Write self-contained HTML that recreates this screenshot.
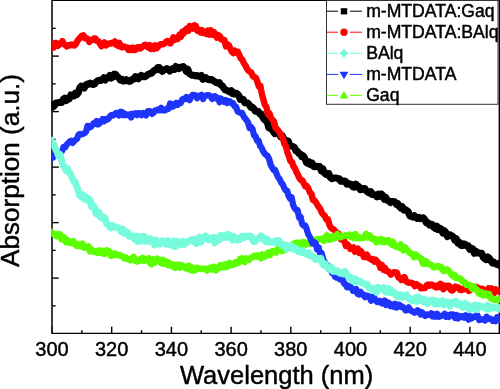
<!DOCTYPE html>
<html><head><meta charset="utf-8"><title>Absorption spectra</title><style>
html,body{margin:0;padding:0;background:#fff;}
svg{display:block;}
text{font-family:"Liberation Sans",Arial,sans-serif;fill:#000;stroke:#000;stroke-width:0.45px;}
</style></head><body>
<svg width="500" height="389" viewBox="0 0 500 389">
<defs><clipPath id="pc"><rect x="51.2" y="0" width="449" height="333"/></clipPath></defs>
<g stroke="#000" stroke-width="1.4" fill="none">
<line x1="52.00" y1="333.6" x2="52.00" y2="326.80"/>
<line x1="81.85" y1="333.6" x2="81.85" y2="330.20"/>
<line x1="111.70" y1="333.6" x2="111.70" y2="326.80"/>
<line x1="141.55" y1="333.6" x2="141.55" y2="330.20"/>
<line x1="171.40" y1="333.6" x2="171.40" y2="326.80"/>
<line x1="201.25" y1="333.6" x2="201.25" y2="330.20"/>
<line x1="231.10" y1="333.6" x2="231.10" y2="326.80"/>
<line x1="260.95" y1="333.6" x2="260.95" y2="330.20"/>
<line x1="290.80" y1="333.6" x2="290.80" y2="326.80"/>
<line x1="320.65" y1="333.6" x2="320.65" y2="330.20"/>
<line x1="350.50" y1="333.6" x2="350.50" y2="326.80"/>
<line x1="380.35" y1="333.6" x2="380.35" y2="330.20"/>
<line x1="410.20" y1="333.6" x2="410.20" y2="326.80"/>
<line x1="440.05" y1="333.6" x2="440.05" y2="330.20"/>
<line x1="469.90" y1="333.6" x2="469.90" y2="326.80"/>
<line x1="52" y1="305.85" x2="55.60" y2="305.85"/>
<line x1="52" y1="278.10" x2="58.80" y2="278.10"/>
<line x1="52" y1="250.35" x2="55.60" y2="250.35"/>
<line x1="52" y1="222.60" x2="58.80" y2="222.60"/>
<line x1="52" y1="194.85" x2="55.60" y2="194.85"/>
<line x1="52" y1="167.10" x2="58.80" y2="167.10"/>
<line x1="52" y1="139.35" x2="55.60" y2="139.35"/>
<line x1="52" y1="111.60" x2="58.80" y2="111.60"/>
<line x1="52" y1="83.85" x2="55.60" y2="83.85"/>
<line x1="52" y1="56.10" x2="58.80" y2="56.10"/>
<line x1="52" y1="28.35" x2="55.60" y2="28.35"/>
</g>
<path d="M52,0.4 H499.3 V333.4 H52" fill="none" stroke="#000" stroke-width="1.4"/>
<line x1="52" y1="0" x2="52" y2="334.1" stroke="#1a1a1a" stroke-width="1.7"/>
<rect x="326.5" y="0.5" width="171.5" height="103.8" fill="none" stroke="#333" stroke-width="1"/>
<g font-size="17.6px">
<path d="M326.5 11.2H338M350 11.2H362" stroke="#000000" stroke-width="1"/>
<rect x="340.8" y="8.2" width="6.4" height="6.2" fill="#000000"/>
<text x="366.2" y="16.8">m-MTDATA:Gaq</text>
<path d="M326.5 32.2H338M350 32.2H362" stroke="#ff0000" stroke-width="1"/>
<circle cx="344" cy="32.2" r="3.7" fill="#ff0000"/>
<text x="366.2" y="37.9">m-MTDATA:BAlq</text>
<path d="M326.5 53.3H338M350 53.3H362" stroke="#76fcdc" stroke-width="1"/>
<polygon points="344,48.9 348.4,53.3 344,57.7 339.6,53.3" fill="#76fcdc"/>
<text x="366.2" y="58.9">BAlq</text>
<path d="M326.5 74.4H338M350 74.4H362" stroke="#1f34fb" stroke-width="1"/>
<polygon points="339.6,71.8 348.4,71.8 344,79.2" fill="#1f34fb"/>
<text x="366.2" y="80.0">m-MTDATA</text>
<path d="M326.5 95.4H338M350 95.4H362" stroke="#5cff00" stroke-width="1"/>
<polygon points="339.6,98.4 348.4,98.4 344,91.0" fill="#5cff00"/>
<text x="366.2" y="101.0">Gaq</text>
</g>
<g clip-path="url(#pc)" fill="none" stroke-linejoin="round" stroke-linecap="round">
<polyline points="51.3,105.0 52.8,107.0 54.3,105.8 55.8,102.9 57.3,103.1 58.8,102.4 60.3,102.6 61.8,102.6 63.3,99.2 64.8,98.2 66.3,100.6 67.8,98.3 69.3,98.8 70.8,94.9 72.3,95.8 73.8,96.0 75.3,93.2 76.8,94.6 78.3,92.8 79.8,87.7 81.3,86.1 82.8,87.0 84.3,88.0 85.8,85.1 87.3,83.9 88.8,84.2 90.3,83.0 91.8,84.1 93.3,84.5 94.8,83.8 96.3,81.7 97.8,80.8 99.3,80.2 100.8,80.6 102.3,79.4 103.8,77.8 105.3,80.0 106.8,78.0 108.3,77.8 109.8,75.4 111.3,78.0 112.8,77.2 114.3,74.0 115.8,74.6 117.3,76.6 118.8,77.9 120.3,80.1 121.8,79.3 123.3,81.2 124.8,80.8 126.3,79.6 127.8,80.6 129.3,81.4 130.8,80.9 132.3,79.2 133.8,79.1 135.3,76.6 136.8,77.0 138.3,78.8 139.8,76.8 141.3,75.4 142.8,76.5 144.3,76.8 145.8,76.4 147.3,74.9 148.8,74.1 150.3,73.3 151.8,73.2 153.3,71.3 154.8,70.1 156.3,69.9 157.8,67.4 159.3,67.5 160.8,70.1 162.3,71.4 163.8,70.0 165.3,69.3 166.8,68.5 168.3,69.4 169.8,71.0 171.3,69.8 172.8,68.5 174.3,69.4 175.8,66.5 177.3,67.3 178.8,68.6 180.3,67.2 181.8,67.0 183.3,66.6 184.8,68.3 186.3,71.4 187.8,69.1 189.3,73.6 190.8,74.5 192.3,75.3 193.8,75.2 195.3,76.0 196.8,75.4 198.3,76.2 199.8,76.3 201.3,75.5 202.8,79.3 204.3,78.6 205.8,77.6 207.3,79.3 208.8,79.8 210.3,79.5 211.8,79.6 213.3,80.6 214.8,81.6 216.3,82.6 217.8,83.0 219.3,82.6 220.8,85.0 222.3,85.8 223.8,88.1 225.3,89.9 226.8,90.3 228.3,91.0 229.8,92.0 231.3,90.6 232.8,93.9 234.3,94.1 235.8,93.0 237.3,94.0 238.8,95.3 240.3,99.5 241.8,98.8 243.3,99.5 244.8,102.8 246.3,103.0 247.8,103.1 249.3,104.7 250.8,107.4 252.3,107.1 253.8,108.5 255.3,111.2 256.8,111.1 258.3,111.5 259.8,113.9 261.3,114.0 262.8,117.3 264.3,119.5 265.8,120.6 267.3,122.4 268.8,127.8 270.3,128.4 271.8,128.7 273.3,131.6 274.8,133.6 276.3,131.3 277.8,132.2 279.3,133.7 280.8,136.9 282.3,135.8 283.8,139.0 285.3,140.0 286.8,140.8 288.3,140.9 289.8,145.3 291.3,146.0 292.8,146.6 294.3,147.2 295.8,150.7 297.3,151.3 298.8,153.5 300.3,154.0 301.8,156.7 303.3,155.9 304.8,158.3 306.3,162.4 307.8,163.5 309.3,162.0 310.8,164.7 312.3,163.3 313.8,166.7 315.3,166.8 316.8,166.3 318.3,166.5 319.8,166.5 321.3,171.0 322.8,168.7 324.3,172.8 325.8,174.4 327.3,173.9 328.8,173.5 330.3,177.4 331.8,178.8 333.3,178.2 334.8,177.9 336.3,177.9 337.8,178.5 339.3,178.7 340.8,181.4 342.3,181.2 343.8,180.9 345.3,181.2 346.8,184.0 348.3,183.2 349.8,184.5 351.3,184.2 352.8,186.8 354.3,187.2 355.8,184.1 357.3,185.5 358.8,186.6 360.3,189.8 361.8,189.6 363.3,188.4 364.8,188.4 366.3,190.8 367.8,192.0 369.3,193.0 370.8,191.6 372.3,194.6 373.8,194.7 375.3,194.7 376.8,196.9 378.3,194.2 379.8,196.4 381.3,194.0 382.8,195.3 384.3,199.3 385.8,197.5 387.3,200.6 388.8,200.8 390.3,202.6 391.8,201.5 393.3,201.6 394.8,201.7 396.3,204.3 397.8,203.6 399.3,206.6 400.8,208.1 402.3,206.8 403.8,210.1 405.3,209.6 406.8,210.5 408.3,211.7 409.8,215.9 411.3,216.5 412.8,217.1 414.3,215.7 415.8,217.3 417.3,218.5 418.8,217.4 420.3,218.7 421.8,217.9 423.3,217.8 424.8,219.5 426.3,222.9 427.8,222.6 429.3,225.0 430.8,224.1 432.3,224.4 433.8,227.4 435.3,228.5 436.8,226.2 438.3,229.6 439.8,228.1 441.3,229.1 442.8,233.1 444.3,230.8 445.8,232.6 447.3,236.6 448.8,235.1 450.3,234.7 451.8,235.8 453.3,237.0 454.8,240.2 456.3,238.8 457.8,243.2 459.3,242.3 460.8,245.3 462.3,245.7 463.8,243.8 465.3,244.3 466.8,246.2 468.3,245.9 469.8,249.3 471.3,248.0 472.8,248.8 474.3,253.3 475.8,251.2 477.3,253.0 478.8,253.0 480.3,253.4 481.8,253.3 483.3,257.6 484.8,258.8 486.3,259.6 487.8,257.0 489.3,258.2 490.8,260.6 492.3,263.0 493.8,262.1 495.3,263.7 496.8,264.5 498.3,263.6 499.8,265.5" stroke="#000000" stroke-width="7.0"/>
<polyline points="51.9,48.0 53.4,47.7 54.9,43.0 56.4,42.9 57.9,45.9 59.4,44.6 60.9,43.4 62.4,41.1 63.9,43.9 65.4,45.2 66.9,46.4 68.4,45.1 69.9,45.5 71.4,44.4 72.9,45.2 74.4,45.5 75.9,44.0 77.4,40.8 78.9,39.1 80.4,37.4 81.9,35.8 83.4,35.3 84.9,38.2 86.4,38.1 87.9,39.1 89.4,41.9 90.9,39.9 92.4,40.0 93.9,38.4 95.4,38.4 96.9,41.0 98.4,41.1 99.9,43.4 101.4,46.1 102.9,44.8 104.4,42.4 105.9,45.3 107.4,44.3 108.9,43.4 110.4,43.7 111.9,42.8 113.4,43.3 114.9,41.5 116.4,45.0 117.9,45.8 119.4,42.9 120.9,46.9 122.4,47.4 123.9,46.5 125.4,47.2 126.9,47.4 128.4,49.9 129.9,48.2 131.4,50.2 132.9,47.7 134.4,50.0 135.9,49.7 137.4,47.1 138.9,47.2 140.4,48.5 141.9,47.1 143.4,45.9 144.9,44.7 146.4,45.3 147.9,47.3 149.4,45.0 150.9,49.0 152.4,46.2 153.9,49.0 155.4,45.4 156.9,48.1 158.4,46.2 159.9,44.6 161.4,44.1 162.9,44.4 164.4,43.7 165.9,42.0 167.4,41.0 168.9,41.9 170.4,43.4 171.9,41.2 173.4,37.2 174.9,39.7 176.4,38.5 177.9,38.9 179.4,34.8 180.9,36.9 182.4,31.9 183.9,33.3 185.4,29.8 186.9,28.5 188.4,30.8 189.9,26.0 191.4,27.4 192.9,28.6 194.4,25.2 195.9,26.1 197.4,30.8 198.9,29.8 200.4,32.4 201.9,30.1 203.4,32.9 204.9,31.9 206.4,34.0 207.9,30.7 209.4,34.6 210.9,30.3 212.4,34.8 213.9,32.1 215.4,34.2 216.9,37.8 218.4,35.2 219.9,36.2 221.4,39.6 222.9,39.8 224.4,39.9 225.9,46.4 227.4,44.1 228.9,45.4 230.4,48.8 231.9,51.9 233.4,53.2 234.9,50.7 236.4,52.5 237.9,51.9 239.4,55.4 240.9,58.5 242.4,59.9 243.9,63.3 245.4,65.3 246.9,68.6 248.4,70.6 249.9,71.9 251.4,72.5 252.9,76.5 254.4,76.8 255.9,77.9 257.4,81.8 258.9,86.6 260.4,85.8 261.9,94.0 263.4,99.6 264.9,104.8 266.4,106.8 267.9,114.0 269.4,113.3 270.9,117.6 272.4,119.8 273.9,121.1 275.4,127.7 276.9,129.0 278.4,130.8 279.9,132.9 281.4,136.0 282.9,138.3 284.4,143.8 285.9,146.4 287.4,152.3 288.9,156.1 290.4,161.2 291.9,161.7 293.4,166.4 294.9,168.2 296.4,172.2 297.9,174.7 299.4,178.1 300.9,180.1 302.4,180.3 303.9,183.6 305.4,186.5 306.9,186.1 308.4,188.5 309.9,192.5 311.4,193.9 312.9,199.9 314.4,200.6 315.9,202.3 317.4,204.8 318.9,207.2 320.4,209.2 321.9,212.9 323.4,214.7 324.9,215.9 326.4,219.5 327.9,219.3 329.4,225.0 330.9,227.7 332.4,228.9 333.9,229.5 335.4,231.8 336.9,234.1 338.4,233.5 339.9,237.3 341.4,239.7 342.9,239.9 344.4,241.3 345.9,245.9 347.4,244.5 348.9,246.1 350.4,248.9 351.9,248.1 353.4,247.4 354.9,251.7 356.4,249.5 357.9,248.6 359.4,253.0 360.9,251.2 362.4,253.3 363.9,257.0 365.4,257.1 366.9,254.7 368.4,257.8 369.9,258.5 371.4,259.7 372.9,259.0 374.4,261.7 375.9,259.9 377.4,261.8 378.9,263.6 380.4,267.8 381.9,264.9 383.4,269.7 384.9,268.0 386.4,271.0 387.9,271.1 389.4,272.6 390.9,274.7 392.4,273.2 393.9,272.1 395.4,272.4 396.9,272.7 398.4,277.6 399.9,277.5 401.4,280.1 402.9,279.7 404.4,277.0 405.9,280.9 407.4,282.3 408.9,282.9 410.4,282.6 411.9,282.8 413.4,284.0 414.9,286.2 416.4,284.0 417.9,285.7 419.4,285.9 420.9,288.3 422.4,287.6 423.9,288.2 425.4,287.8 426.9,285.0 428.4,284.5 429.9,285.7 431.4,284.4 432.9,285.1 434.4,286.3 435.9,287.4 437.4,285.7 438.9,286.9 440.4,283.8 441.9,285.6 443.4,289.3 444.9,285.6 446.4,287.1 447.9,285.6 449.4,285.8 450.9,290.0 452.4,290.6 453.9,289.1 455.4,286.6 456.9,287.6 458.4,287.4 459.9,289.8 461.4,290.0 462.9,289.0 464.4,289.3 465.9,287.0 467.4,289.0 468.9,290.9 470.4,289.8 471.9,286.3 473.4,288.3 474.9,289.1 476.4,286.9 477.9,290.4 479.4,288.5 480.9,290.0 482.4,288.8 483.9,292.1 485.4,291.3 486.9,290.5 488.4,288.5 489.9,290.2 491.4,288.3 492.9,291.2 494.4,292.8 495.9,289.4 497.4,291.2 498.9,291.1 500.4,290.8" stroke="#ff0000" stroke-width="6.4"/>
<polyline points="51.0,231.7 52.5,233.9 54.0,233.7 55.5,235.5 57.0,236.2 58.5,234.1 60.0,234.5 61.5,239.3 63.0,237.1 64.5,237.7 66.0,242.2 67.5,240.3 69.0,242.9 70.5,241.8 72.0,243.1 73.5,241.2 75.0,244.0 76.5,245.7 78.0,244.5 79.5,246.1 81.0,246.2 82.5,243.7 84.0,247.8 85.5,247.7 87.0,247.0 88.5,246.4 90.0,251.3 91.5,249.5 93.0,251.0 94.5,252.0 96.0,251.4 97.5,252.7 99.0,250.3 100.5,252.5 102.0,250.9 103.5,253.7 105.0,253.8 106.5,250.3 108.0,250.8 109.5,251.7 111.0,255.8 112.5,253.6 114.0,255.0 115.5,253.7 117.0,255.1 118.5,254.9 120.0,255.0 121.5,256.4 123.0,256.6 124.5,258.4 126.0,257.5 127.5,259.1 129.0,259.2 130.5,260.3 132.0,259.1 133.5,256.8 135.0,260.6 136.5,261.4 138.0,261.3 139.5,259.7 141.0,260.3 142.5,257.8 144.0,260.8 145.5,259.7 147.0,258.9 148.5,258.4 150.0,262.9 151.5,264.1 153.0,259.3 154.5,262.6 156.0,260.3 157.5,258.7 159.0,259.7 160.5,262.5 162.0,263.4 163.5,259.9 165.0,263.7 166.5,261.6 168.0,265.0 169.5,263.1 171.0,265.8 172.5,266.4 174.0,264.7 175.5,267.9 177.0,265.1 178.5,264.6 180.0,267.5 181.5,265.1 183.0,266.3 184.5,267.4 186.0,268.5 187.5,266.3 189.0,265.8 190.5,270.0 192.0,267.3 193.5,270.6 195.0,270.4 196.5,267.8 198.0,268.2 199.5,268.5 201.0,269.1 202.5,268.9 204.0,268.7 205.5,269.0 207.0,270.6 208.5,268.4 210.0,267.9 211.5,269.3 213.0,266.8 214.5,267.0 216.0,270.3 217.5,268.0 219.0,268.0 220.5,265.1 222.0,266.9 223.5,267.5 225.0,264.3 226.5,266.8 228.0,266.3 229.5,262.9 231.0,265.2 232.5,263.9 234.0,264.4 235.5,262.2 237.0,263.5 238.5,263.0 240.0,258.9 241.5,258.4 243.0,260.9 244.5,262.0 246.0,258.3 247.5,259.2 249.0,259.8 250.5,258.0 252.0,257.4 253.5,256.2 255.0,255.6 256.5,256.6 258.0,255.4 259.5,256.0 261.0,258.2 262.5,254.4 264.0,256.4 265.5,256.5 267.0,253.7 268.5,252.6 270.0,255.0 271.5,251.6 273.0,250.9 274.5,251.6 276.0,252.5 277.5,249.2 279.0,249.9 280.5,249.3 282.0,251.1 283.5,248.4 285.0,249.8 286.5,245.7 288.0,245.9 289.5,246.8 291.0,247.3 292.5,244.9 294.0,243.6 295.5,242.8 297.0,244.6 298.5,242.7 300.0,245.6 301.5,245.5 303.0,242.0 304.5,242.2 306.0,244.5 307.5,243.4 309.0,243.9 310.5,241.2 312.0,239.8 313.5,240.2 315.0,242.3 316.5,239.3 318.0,239.3 319.5,239.3 321.0,239.0 322.5,238.5 324.0,240.7 325.5,236.5 327.0,235.4 328.5,239.7 330.0,239.0 331.5,239.2 333.0,236.0 334.5,238.2 336.0,237.7 337.5,234.2 339.0,236.8 340.5,237.3 342.0,236.4 343.5,236.0 345.0,235.2 346.5,235.8 348.0,235.5 349.5,234.7 351.0,237.2 352.5,235.5 354.0,238.0 355.5,234.0 357.0,238.2 358.5,237.1 360.0,238.2 361.5,238.0 363.0,238.1 364.5,236.5 366.0,233.8 367.5,237.5 369.0,235.2 370.5,236.4 372.0,238.9 373.5,238.9 375.0,239.0 376.5,242.4 378.0,241.0 379.5,239.6 381.0,239.0 382.5,242.0 384.0,240.1 385.5,242.2 387.0,240.6 388.5,240.3 390.0,242.6 391.5,244.5 393.0,241.8 394.5,245.4 396.0,246.6 397.5,246.7 399.0,247.6 400.5,244.3 402.0,248.1 403.5,250.3 405.0,247.4 406.5,249.7 408.0,250.7 409.5,252.9 411.0,253.4 412.5,254.6 414.0,257.2 415.5,254.3 417.0,255.7 418.5,257.1 420.0,258.0 421.5,258.5 423.0,263.9 424.5,264.1 426.0,261.1 427.5,263.9 429.0,263.7 430.5,264.5 432.0,265.4 433.5,267.3 435.0,267.3 436.5,266.6 438.0,266.1 439.5,267.3 441.0,266.9 442.5,269.6 444.0,271.1 445.5,270.1 447.0,269.4 448.5,270.7 450.0,272.5 451.5,274.5 453.0,276.2 454.5,275.0 456.0,278.0 457.5,278.1 459.0,278.1 460.5,278.8 462.0,280.5 463.5,282.7 465.0,282.4 466.5,284.9 468.0,284.7 469.5,284.7 471.0,287.2 472.5,288.9 474.0,286.5 475.5,289.1 477.0,289.9 478.5,293.0 480.0,294.1 481.5,292.1 483.0,295.4 484.5,295.5 486.0,293.5 487.5,295.1 489.0,294.1 490.5,298.2 492.0,298.1 493.5,299.7 495.0,299.7 496.5,299.5 498.0,300.2 499.5,299.8 501.0,297.9" stroke="#5cff00" stroke-width="6.5"/>
<polyline points="50.1,159.7 51.6,157.6 53.1,157.5 54.6,154.8 56.1,152.8 57.6,152.9 59.1,153.8 60.6,152.1 62.1,150.8 63.6,147.0 65.1,147.3 66.6,144.9 68.1,143.2 69.6,141.6 71.1,140.8 72.6,142.9 74.1,141.1 75.6,139.8 77.1,138.7 78.6,134.6 80.1,134.0 81.6,134.4 83.1,133.8 84.6,133.2 86.1,131.4 87.6,125.9 89.1,127.6 90.6,127.1 92.1,125.4 93.6,123.1 95.1,123.7 96.6,121.1 98.1,124.4 99.6,123.4 101.1,121.1 102.6,119.1 104.1,121.3 105.6,118.9 107.1,119.6 108.6,118.6 110.1,116.2 111.6,114.9 113.1,115.5 114.6,114.4 116.1,112.9 117.6,113.3 119.1,115.5 120.6,111.8 122.1,112.1 123.6,115.1 125.1,113.7 126.6,115.1 128.1,114.9 129.6,114.3 131.1,117.5 132.6,113.7 134.1,114.5 135.6,113.3 137.1,115.1 138.6,113.2 140.1,113.4 141.6,115.1 143.1,113.0 144.6,114.0 146.1,115.4 147.6,111.4 149.1,111.0 150.6,111.5 152.1,113.9 153.6,112.7 155.1,110.5 156.6,110.5 158.1,109.4 159.6,110.3 161.1,107.8 162.6,110.3 164.1,110.5 165.6,110.1 167.1,108.4 168.6,108.7 170.1,103.5 171.6,104.0 173.1,106.6 174.6,105.1 176.1,102.9 177.6,104.9 179.1,102.8 180.6,103.1 182.1,99.8 183.6,98.6 185.1,99.0 186.6,97.0 188.1,97.8 189.6,100.2 191.1,96.8 192.6,95.0 194.1,95.0 195.6,95.4 197.1,98.2 198.6,96.0 200.1,95.7 201.6,94.8 203.1,99.0 204.6,96.3 206.1,95.5 207.6,95.1 209.1,95.4 210.6,96.2 212.1,98.9 213.6,96.5 215.1,96.2 216.6,98.6 218.1,98.0 219.6,102.2 221.1,98.6 222.6,100.7 224.1,101.9 225.6,100.1 227.1,102.9 228.6,101.1 230.1,101.4 231.6,103.6 233.1,103.2 234.6,106.5 236.1,106.9 237.6,111.3 239.1,112.3 240.6,112.9 242.1,113.0 243.6,116.3 245.1,118.4 246.6,120.3 248.1,122.6 249.6,128.1 251.1,127.1 252.6,129.2 254.1,135.6 255.6,136.2 257.1,140.8 258.6,140.7 260.1,145.9 261.6,147.6 263.1,151.2 264.6,153.6 266.1,155.1 267.6,155.8 269.1,158.9 270.6,164.7 272.1,167.3 273.6,170.0 275.1,169.8 276.6,173.9 278.1,177.2 279.6,179.0 281.1,182.5 282.6,184.1 284.1,187.6 285.6,190.3 287.1,190.7 288.6,196.1 290.1,198.6 291.6,197.3 293.1,204.9 294.6,208.1 296.1,209.9 297.6,210.2 299.1,217.5 300.6,216.9 302.1,223.9 303.6,225.4 305.1,225.3 306.6,228.8 308.1,234.0 309.6,236.5 311.1,240.0 312.6,243.6 314.1,242.1 315.6,243.1 317.1,249.6 318.6,247.3 320.1,253.9 321.6,253.0 323.1,259.0 324.6,261.6 326.1,264.6 327.6,265.4 329.1,269.3 330.6,268.4 332.1,273.0 333.6,272.8 335.1,276.8 336.6,277.6 338.1,277.5 339.6,279.2 341.1,278.1 342.6,279.5 344.1,283.6 345.6,284.4 347.1,287.4 348.6,287.2 350.1,286.0 351.6,288.1 353.1,290.9 354.6,290.6 356.1,289.1 357.6,293.9 359.1,294.6 360.6,291.7 362.1,294.6 363.6,294.5 365.1,297.1 366.6,295.5 368.1,295.8 369.6,297.7 371.1,300.7 372.6,296.9 374.1,297.5 375.6,300.3 377.1,302.0 378.6,300.8 380.1,300.9 381.6,303.4 383.1,303.6 384.6,300.6 386.1,305.0 387.6,302.2 389.1,303.2 390.6,306.1 392.1,304.5 393.6,306.6 395.1,303.8 396.6,307.6 398.1,304.6 399.6,304.9 401.1,307.0 402.6,306.7 404.1,308.2 405.6,310.5 407.1,310.2 408.6,307.4 410.1,309.5 411.6,311.2 413.1,311.5 414.6,312.8 416.1,312.0 417.6,310.3 419.1,311.3 420.6,314.5 422.1,312.4 423.6,314.6 425.1,315.9 426.6,314.4 428.1,314.8 429.6,314.6 431.1,313.3 432.6,316.4 434.1,314.4 435.6,316.7 437.1,313.9 438.6,316.8 440.1,316.5 441.6,315.8 443.1,315.2 444.6,313.9 446.1,317.0 447.6,315.2 449.1,316.8 450.6,314.4 452.1,314.3 453.6,314.6 455.1,317.9 456.6,315.0 458.1,318.5 459.6,316.0 461.1,317.1 462.6,316.2 464.1,317.6 465.6,315.2 467.1,316.9 468.6,319.6 470.1,316.1 471.6,318.4 473.1,316.9 474.6,316.8 476.1,315.5 477.6,315.5 479.1,320.0 480.6,319.5 482.1,319.4 483.6,319.6 485.1,320.4 486.6,316.7 488.1,318.9 489.6,318.6 491.1,319.0 492.6,320.9 494.1,320.1 495.6,321.2 497.1,317.2 498.6,319.8 500.1,320.0" stroke="#1f34fb" stroke-width="6.3"/>
<polyline points="51.0,140.0 52.5,142.7 54.0,145.3 55.5,149.0 57.0,151.5 58.5,156.2 60.0,154.4 61.5,160.0 63.0,165.6 64.5,166.7 66.0,170.5 67.5,168.4 69.0,172.7 70.5,173.5 72.0,177.4 73.5,180.9 75.0,181.5 76.5,186.3 78.0,189.9 79.5,195.6 81.0,196.7 82.5,194.5 84.0,199.3 85.5,196.5 87.0,200.3 88.5,198.6 90.0,199.7 91.5,206.9 93.0,205.1 94.5,207.2 96.0,213.6 97.5,214.3 99.0,212.2 100.5,217.3 102.0,216.3 103.5,218.8 105.0,217.8 106.5,223.8 108.0,224.0 109.5,226.9 111.0,227.7 112.5,225.6 114.0,227.2 115.5,226.9 117.0,227.5 118.5,227.7 120.0,229.7 121.5,232.0 123.0,229.0 124.5,233.4 126.0,231.8 127.5,232.3 129.0,236.4 130.5,235.5 132.0,235.7 133.5,237.7 135.0,239.4 136.5,236.1 138.0,241.8 139.5,236.6 141.0,240.8 142.5,241.1 144.0,236.2 145.5,241.3 147.0,239.5 148.5,241.3 150.0,238.5 151.5,239.2 153.0,240.3 154.5,245.0 156.0,240.1 157.5,242.8 159.0,243.9 160.5,244.1 162.0,240.9 163.5,241.2 165.0,242.4 166.5,244.2 168.0,240.6 169.5,244.6 171.0,245.1 172.5,245.7 174.0,241.1 175.5,246.7 177.0,241.3 178.5,242.2 180.0,243.3 181.5,244.5 183.0,241.1 184.5,244.6 186.0,242.5 187.5,241.3 189.0,241.4 190.5,240.2 192.0,239.4 193.5,239.5 195.0,242.3 196.5,243.6 198.0,238.3 199.5,237.2 201.0,242.2 202.5,239.0 204.0,237.6 205.5,235.9 207.0,237.8 208.5,239.8 210.0,238.3 211.5,238.8 213.0,237.3 214.5,243.0 216.0,237.7 217.5,239.3 219.0,240.2 220.5,235.1 222.0,237.5 223.5,237.7 225.0,235.7 226.5,237.5 228.0,234.4 229.5,237.2 231.0,236.2 232.5,240.0 234.0,236.6 235.5,237.4 237.0,240.3 238.5,239.2 240.0,239.6 241.5,236.3 243.0,236.2 244.5,237.7 246.0,236.7 247.5,236.0 249.0,237.1 250.5,236.0 252.0,237.6 253.5,241.5 255.0,241.6 256.5,239.8 258.0,238.7 259.5,237.5 261.0,235.8 262.5,236.7 264.0,240.3 265.5,241.4 267.0,239.0 268.5,242.0 270.0,242.2 271.5,241.9 273.0,242.0 274.5,242.7 276.0,240.6 277.5,242.8 279.0,240.5 280.5,242.8 282.0,245.5 283.5,246.1 285.0,244.8 286.5,249.1 288.0,247.9 289.5,248.0 291.0,245.3 292.5,248.7 294.0,247.3 295.5,250.0 297.0,249.1 298.5,251.7 300.0,251.2 301.5,252.6 303.0,250.5 304.5,252.8 306.0,253.9 307.5,254.9 309.0,252.5 310.5,255.8 312.0,256.6 313.5,256.5 315.0,259.0 316.5,259.8 318.0,258.2 319.5,259.4 321.0,258.4 322.5,263.5 324.0,265.2 325.5,263.9 327.0,266.6 328.5,268.1 330.0,269.6 331.5,267.3 333.0,271.3 334.5,270.7 336.0,271.7 337.5,270.7 339.0,272.3 340.5,273.5 342.0,273.1 343.5,274.0 345.0,271.4 346.5,273.7 348.0,276.4 349.5,278.8 351.0,277.4 352.5,281.0 354.0,281.5 355.5,278.9 357.0,282.2 358.5,281.4 360.0,281.0 361.5,282.1 363.0,283.7 364.5,283.6 366.0,284.6 367.5,284.6 369.0,288.0 370.5,288.4 372.0,290.0 373.5,290.1 375.0,288.3 376.5,292.4 378.0,287.2 379.5,289.4 381.0,288.5 382.5,289.2 384.0,287.5 385.5,292.2 387.0,290.1 388.5,288.7 390.0,292.6 391.5,290.0 393.0,293.1 394.5,292.3 396.0,294.2 397.5,296.8 399.0,296.5 400.5,294.7 402.0,297.4 403.5,296.9 405.0,295.8 406.5,294.9 408.0,298.0 409.5,298.0 411.0,300.5 412.5,300.8 414.0,298.9 415.5,297.9 417.0,301.6 418.5,297.0 420.0,298.1 421.5,301.1 423.0,301.6 424.5,299.1 426.0,302.1 427.5,303.8 429.0,300.8 430.5,301.1 432.0,299.9 433.5,300.3 435.0,304.2 436.5,300.7 438.0,304.0 439.5,303.6 441.0,302.1 442.5,300.5 444.0,305.0 445.5,302.6 447.0,302.4 448.5,302.1 450.0,306.2 451.5,303.4 453.0,302.2 454.5,303.2 456.0,301.4 457.5,304.8 459.0,304.2 460.5,303.8 462.0,307.0 463.5,307.6 465.0,303.2 466.5,306.6 468.0,305.4 469.5,309.6 471.0,309.0 472.5,305.8 474.0,305.9 475.5,305.1 477.0,309.7 478.5,305.5 480.0,307.1 481.5,306.3 483.0,307.6 484.5,307.7 486.0,308.8 487.5,305.3 489.0,309.2 490.5,306.7 492.0,308.1 493.5,307.1 495.0,306.9 496.5,308.3 498.0,308.0 499.5,307.5 501.0,309.7" stroke="#76fcdc" stroke-width="6.8"/>
</g>
<g font-size="20px" text-anchor="middle">
<text x="52.0" y="356.3">300</text>
<text x="111.7" y="356.3">320</text>
<text x="171.4" y="356.3">340</text>
<text x="231.1" y="356.3">360</text>
<text x="290.8" y="356.3">380</text>
<text x="350.5" y="356.3">400</text>
<text x="410.2" y="356.3">420</text>
<text x="469.9" y="356.3">440</text>
</g>
<text x="180" y="384" font-size="25.5px">Wavelength (nm)</text>
<text transform="translate(19.3,267) rotate(-90)" font-size="26.1px">Absorption (a.u.)</text>
</svg>
</body></html>
